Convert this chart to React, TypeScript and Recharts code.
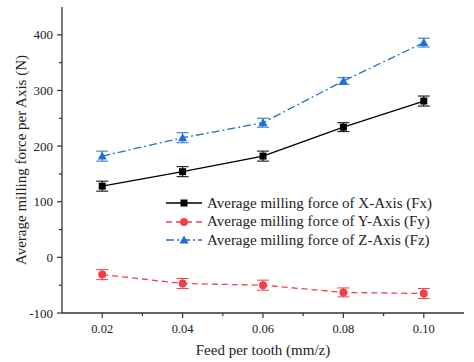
import React from "react";
import { LineChart, Line, XAxis, YAxis, ErrorBar, Legend, Label } from "recharts";

const feed = [0.02, 0.04, 0.06, 0.08, 0.1];
const fx = [128, 154, 182, 234, 281];
const fxErr = [9, 9, 9, 8, 9];
const fy = [-31, -47, -50, -63, -65];
const fyErr = [9, 9, 9, 8, 9];
const fz = [182, 215, 242, 317, 386];
const fzErr = [9, 9, 8, 6, 8];

const xTicks = [0.02, 0.03, 0.04, 0.05, 0.06, 0.07, 0.08, 0.09, 0.1];
const yTicks = [-100, -50, 0, 50, 100, 150, 200, 250, 300, 350, 400];

const data = feed.map((f, i) => ({
  feed: f,
  fx: fx[i],
  fxErr: fxErr[i],
  fy: fy[i],
  fyErr: fyErr[i],
  fz: fz[i],
  fzErr: fzErr[i],
}));

const FONT = "Liberation Serif";
const AXIS = "#333";

const series = [
  { key: "fx", name: "Average milling force of X-Axis (Fx)", color: "#000000", dash: undefined, shape: "square" },
  { key: "fy", name: "Average milling force of Y-Axis (Fy)", color: "#f2404a", dash: "6 4", shape: "circle" },
  { key: "fz", name: "Average milling force of Z-Axis (Fz)", color: "#1f6fd4", dash: "8 3 2 3", shape: "triangle" },
];

const Marker = ({ shape, cx, cy, color }: any) => {
  if (cx == null || cy == null) return null;
  if (shape === "square") return <rect x={cx - 3.5} y={cy - 3.5} width={7} height={7} fill={color} />;
  if (shape === "triangle")
    return <polygon points={`${cx},${cy - 4.5} ${cx + 4.5},${cy + 3.5} ${cx - 4.5},${cy + 3.5}`} fill={color} />;
  return <circle cx={cx} cy={cy} r={4} fill={color} />;
};

const isMajorX = (v: number) => Math.round(v * 100) % 2 === 0;
const isMajorY = (v: number) => v % 100 === 0;

const BottomTick = ({ x, y, payload }: any) => {
  const major = isMajorX(payload.value);
  return (
    <g>
      <line x1={x} x2={x} y1={y} y2={y + (major ? 5 : 3)} stroke={AXIS} strokeWidth={1.2} />
      {major && (
        <text x={x} y={y + 20} textAnchor="middle" style={{ fontFamily: FONT, fontSize: 12.5 }} fill="#222">
          {payload.value.toFixed(2)}
        </text>
      )}
    </g>
  );
};

const TopTick = ({ x, y, payload }: any) => (
  <line x1={x} x2={x} y1={y} y2={y + (isMajorX(payload.value) ? 5 : 3)} stroke={AXIS} strokeWidth={1.2} />
);

const LeftTick = ({ x, y, payload }: any) => {
  const major = isMajorY(payload.value);
  return (
    <g>
      <line x1={x} x2={x - (major ? 5 : 3)} y1={y} y2={y} stroke={AXIS} strokeWidth={1.2} />
      {major && (
        <text x={x - 9} y={y + 4.5} textAnchor="end" style={{ fontFamily: FONT, fontSize: 13 }} fill="#222">
          {payload.value}
        </text>
      )}
    </g>
  );
};

const RightTick = ({ x, y, payload }: any) => (
  <line x1={x} x2={x - (isMajorY(payload.value) ? 5 : 3)} y1={y} y2={y} stroke={AXIS} strokeWidth={1.2} />
);

const LegendContent = () => (
  <div style={{ fontFamily: FONT, fontSize: 15, color: "#222" }}>
    {series.map((s) => (
      <div key={s.key} style={{ display: "flex", alignItems: "center", height: 18.5 }}>
        <svg width={38} height={12} style={{ marginRight: 3 }}>
          <line x1={0} x2={36} y1={6} y2={6} stroke={s.color} strokeWidth={1.3} strokeDasharray={s.dash} />
          <Marker shape={s.shape} cx={18} cy={6} color={s.color} />
        </svg>
        <span>{s.name}</span>
      </div>
    ))}
  </div>
);

export default function App() {
  return (
    <div style={{ position: "absolute", left: 0, top: 0, background: "#fff" }}>
      <LineChart width={474} height={362} data={data} margin={{ top: 7, right: 10, bottom: 0, left: 0 }}>
        <XAxis
          xAxisId="b"
          dataKey="feed"
          type="number"
          domain={[0.01, 0.11]}
          ticks={xTicks}
          interval={0}
          height={49}
          tickSize={0}
          tickMargin={0}
          tickLine={false}
          axisLine={{ stroke: AXIS, strokeWidth: 1.3 }}
          tick={<BottomTick />}
        >
          <Label
            content={({ viewBox }: any) => (
              <text
                x={viewBox.x + viewBox.width / 2}
                y={viewBox.y + 42}
                textAnchor="middle"
                style={{ fontFamily: FONT, fontSize: 15 }}
                fill="#222"
              >
                Feed per tooth (mm/z)
              </text>
            )}
          />
        </XAxis>
        <XAxis
          xAxisId="t"
          orientation="top"
          dataKey="feed"
          type="number"
          domain={[0.01, 0.11]}
          ticks={xTicks}
          interval={0}
          height={0}
          tickSize={0}
          tickMargin={0}
          tickLine={false}
          axisLine={{ stroke: AXIS, strokeWidth: 1.3 }}
          tick={<TopTick />}
        />
        <YAxis
          yAxisId="l"
          type="number"
          domain={[-100, 450]}
          ticks={yTicks}
          interval={0}
          width={62}
          tickSize={0}
          tickMargin={0}
          tickLine={false}
          axisLine={{ stroke: AXIS, strokeWidth: 1.3 }}
          tick={<LeftTick />}
        >
          <Label
            content={({ viewBox }: any) => (
              <text
                transform={`translate(${viewBox.x + 21}, ${viewBox.y + viewBox.height / 2}) rotate(-90)`}
                textAnchor="middle"
                dominantBaseline="central"
                style={{ fontFamily: FONT, fontSize: 15 }}
                fill="#222"
              >
                Average milling force per Axis (N)
              </text>
            )}
          />
        </YAxis>
        <YAxis
          yAxisId="r"
          orientation="right"
          type="number"
          domain={[-100, 450]}
          ticks={yTicks}
          interval={0}
          width={0}
          tickSize={0}
          tickMargin={0}
          tickLine={false}
          axisLine={{ stroke: AXIS, strokeWidth: 1.3 }}
          tick={<RightTick />}
        />
        <Legend
          layout="vertical"
          align="center"
          verticalAlign="middle"
          content={<LegendContent />}
          wrapperStyle={{ position: "absolute", left: 166, top: 194, width: 300 }}
        />
        {series.map((s) => (
          <Line
            key={s.key}
            xAxisId="b"
            yAxisId="l"
            dataKey={s.key}
            name={s.name}
            stroke={s.color}
            strokeWidth={1.3}
            strokeDasharray={s.dash}
            isAnimationActive={false}
            dot={(p: any) => <Marker key={p.index} shape={s.shape} cx={p.cx} cy={p.cy} color={s.color} />}
            activeDot={false}
          >
            <ErrorBar
              dataKey={`${s.key}Err`}
              direction="y"
              width={6}
              stroke={s.color}
              strokeWidth={1}
              isAnimationActive={false}
            />
          </Line>
        ))}
      </LineChart>
    </div>
  );
}
